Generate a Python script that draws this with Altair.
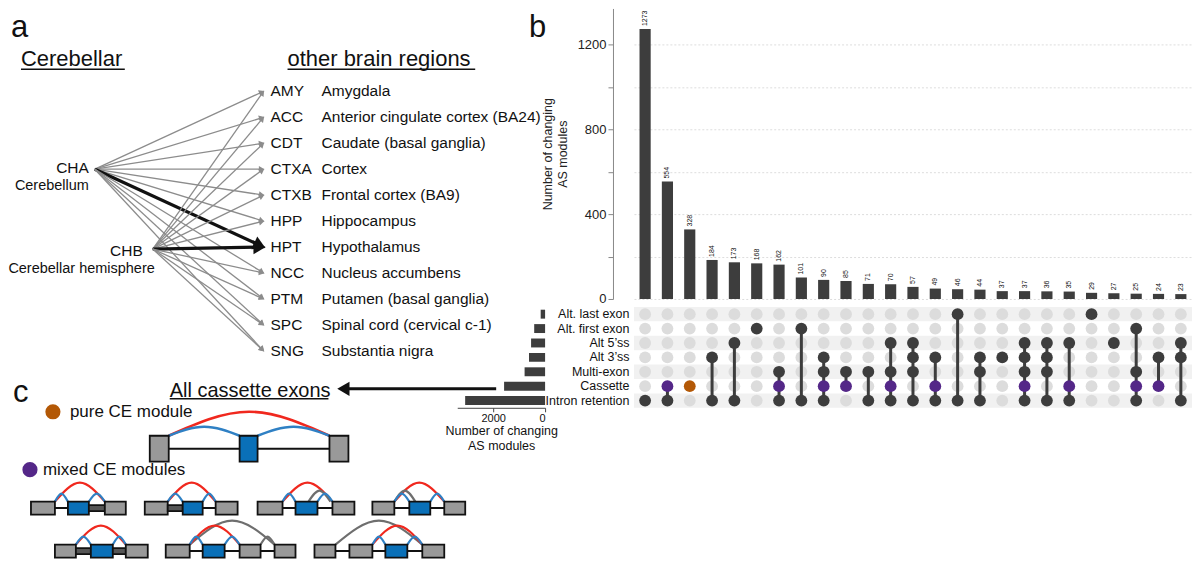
import math
import altair as alt
import pandas as pd

FONT = "Liberation Sans"
INK = "#111111"
DARK = "#3d3d3d"
LIGHT_DOT = "#dcdcdc"
STRIPE = "#f1f1f1"
PURPLE = "#542788"
ORANGE = "#b35806"
EXON_GREY = "#999999"
EXON_DARK = "#555555"
EXON_BLUE = "#0a70b8"
ARC_RED = "#f0281e"
ARC_BLUE = "#2f80c4"
ARC_GREY = "#6e6e6e"
LINK_GREY = "#8c8c8c"

# ---------------- panel b data ----------------
SETS = ["Alt. last exon", "Alt. first exon", "Alt 5\u2019ss", "Alt 3\u2019ss",
        "Multi-exon", "Cassette", "Intron retention"]
SET_SIZES = [170, 420, 540, 620, 790, 1580, 3080]
COUNTS = [1273, 554, 328, 184, 173, 168, 162, 101, 90, 85, 71, 70, 57, 49, 46,
          44, 37, 37, 36, 35, 29, 27, 25, 24, 23]
AL, AF, A5, A3, ME, CAS, IR = SETS
MEMBERS = [
    [IR], [CAS, IR], [CAS], [A3, IR], [A5, IR], [AF], [ME, CAS, IR], [AF, IR],
    [A3, ME, CAS, IR], [ME, CAS], [ME, IR], [A5, ME, CAS, IR], [A5, A3, ME, IR],
    [A3, CAS, IR], [AL, IR], [A3, ME, IR], [A3], [A5, A3, ME, CAS, IR],
    [A5, A3, ME, IR], [A5, CAS, IR], [AL], [A5], [AF, ME, CAS, IR], [A3, CAS],
    [A5, A3, IR],
]
COL_IDS = [f"c{i:02d}" for i in range(len(COUNTS))]

# ---------------- panel a data ----------------
TARGET_CODES = ["AMY", "ACC", "CDT", "CTXA", "CTXB", "HPP", "HPT", "NCC", "PTM", "SPC", "SNG"]
TARGET_NAMES = ["Amygdala", "Anterior cingulate cortex (BA24)", "Caudate (basal ganglia)",
                "Cortex", "Frontal cortex (BA9)", "Hippocampus", "Hypothalamus",
                "Nucleus accumbens", "Putamen (basal ganglia)", "Spinal cord (cervical c-1)",
                "Substantia nigra"]
SOURCE_CODES = ["CHA", "CHB"]
SOURCE_NAMES = ["Cerebellum", "Cerebellar hemisphere"]
HIGHLIGHT = "HPT"

# ---------------- layout ----------------
LEFT_W, MID_W, RIGHT_W = 358, 88, 559
GAP = 89
H_LEFT, H_RIGHT = 553, 400
ROW_RANGE = [299, 400]
BAR_RANGE = [291, 0]
BAR_MAX = 1370

XS = alt.Scale(domain=[0, LEFT_W], nice=False, zero=False)
YS = alt.Scale(domain=[0, H_LEFT], reverse=True, nice=False, zero=False)


def X(f="x"):
    return alt.X(f"{f}:Q", scale=XS, axis=None)


def Y(f="y"):
    return alt.Y(f"{f}:Q", scale=YS, axis=None)


def texts(rows, size, align="left", baseline="middle", color=INK):
    df = pd.DataFrame(rows, columns=["x", "y", "t"])
    return alt.Chart(df).mark_text(font=FONT, fontSize=size, align=align,
                                   baseline=baseline, color=color).encode(
        x=X(), y=Y(), text="t:N")


def rules(rows, width, color=INK):
    df = pd.DataFrame(rows, columns=["x", "y", "x2", "y2"])
    return alt.Chart(df).mark_rule(strokeWidth=width, color=color).encode(
        x=X(), y=Y(), x2=alt.X2("x2:Q"), y2=alt.Y2("y2:Q"))


# ---- panel a geometry
ROW0, ROW_STEP = 83, 26
TIP_X, CODE_X, NAME_X = 253, 260, 311
SRC_POS = {"CHA": (84, 161), "CHB": (142, 241)}

link_rows, head_rows = [], []
for s in SOURCE_CODES:
    sx, sy = SRC_POS[s]
    for i, t in enumerate(TARGET_CODES):
        tx, ty = TIP_X, ROW0 + i * ROW_STEP
        bold = t == HIGHLIGHT
        size = 200 if bold else 42
        dx, dy = tx - sx, ty - sy
        ln = math.hypot(dx, dy)
        ux, uy = dx / ln, dy / ln
        back = 0.433 * math.sqrt(size)
        cx, cy = tx - ux * back, ty - uy * back
        ang = math.degrees(math.atan2(dx, -dy)) % 360
        col = INK if bold else LINK_GREY
        link_rows.append({"x": sx, "y": sy, "x2": cx, "y2": cy, "c": col, "w": 3.2 if bold else 1.3})
        head_rows.append({"x": cx, "y": cy, "a": ang, "s": size, "c": col})

links = alt.Chart(pd.DataFrame(link_rows)).mark_rule().encode(
    x=X(), y=Y(), x2=alt.X2("x2:Q"), y2=alt.Y2("y2:Q"),
    color=alt.Color("c:N", scale=None), strokeWidth=alt.StrokeWidth("w:Q", scale=None))
heads = alt.Chart(pd.DataFrame(head_rows)).mark_point(shape="triangle", filled=True, opacity=1, strokeWidth=0).encode(
    x=X(), y=Y(), angle=alt.Angle("a:Q", scale=None), size=alt.Size("s:Q", scale=None),
    color=alt.Color("c:N", scale=None))

target_codes = texts([(CODE_X, ROW0 + i * ROW_STEP, c) for i, c in enumerate(TARGET_CODES)], 15.5)
target_names = texts([(NAME_X, ROW0 + i * ROW_STEP, n) for i, n in enumerate(TARGET_NAMES)], 15.5)
src_codes = texts([(78, 160, SOURCE_CODES[0]), (132, 243, SOURCE_CODES[1])], 15.5, align="right")
src_names = texts([(78, 178, SOURCE_NAMES[0]), (144, 261, SOURCE_NAMES[1])], 14.5, align="right")

panel_letters = texts([(0, 29, "a"), (519, 29, "b"), (2, 394, "c")], 31, baseline="alphabetic")
headers = alt.layer(
    texts([(10, 58, "Cerebellar"), (277, 58, "other brain regions")], 22, baseline="alphabetic"),
    texts([(159, 389, "All cassette exons")], 20, baseline="alphabetic"),
    rules([(10, 61, 114, 61), (277, 61, 465, 61), (159, 391, 318, 391)], 1.5),
)

# ---- panel c geometry
big_arrow = alt.layer(
    rules([(486, 381, 336, 381)], 3),
    alt.Chart(pd.DataFrame([{"x": 335, "y": 381}])).mark_point(
        shape="triangle", filled=True, opacity=1, size=200, angle=270, color=INK, strokeWidth=0
    ).encode(x=X(), y=Y()),
)
legend_dots = alt.Chart(pd.DataFrame([
    {"x": 42, "y": 404, "c": ORANGE}, {"x": 19, "y": 462, "c": PURPLE}])).mark_circle(
    size=230, opacity=1).encode(x=X(), y=Y(), color=alt.Color("c:N", scale=None))
legend_text = texts([(59, 404, "pure CE module"), (32, 462, "mixed CE modules")], 17)

ROW_GEOM = {
    "pure": dict(top=428, bot=454, dtop=436, dbot=446, red=404, blue=419, grey=412, small=419),
    "r1": dict(top=494, bot=507, dtop=497.5, dbot=503.5, red=475, blue=486, grey=483, small=486),
    "r2": dict(top=537, bot=550, dtop=540.5, dbot=546.5, red=518, blue=529, grey=513, small=529),
}
DIAGRAMS = [
    ("pure", [(139, 158, "G"), (229, 247, "B"), (319, 338, "G")],
     [(158, 319, "red"), (158, 229, "blue"), (247, 319, "blue")]),
    ("r1", [(20, 44, "G"), (57, 78, "B"), (78, 94, "D"), (94, 115, "G")],
     [(44, 94, "red"), (44, 57, "blue"), (78, 94, "blue")]),
    ("r1", [(134, 157, "G"), (157, 172, "D"), (172, 192, "B"), (205, 227, "G")],
     [(157, 205, "red"), (157, 172, "blue"), (192, 205, "blue")]),
    ("r1", [(247, 272, "G"), (285, 307, "B"), (322, 344, "G")],
     [(272, 322, "red"), (298, 320, "grey"), (272, 285, "blue"), (307, 322, "blue")]),
    ("r1", [(362, 384, "G"), (399, 420, "B"), (434, 455, "G")],
     [(384, 434, "red"), (384, 405, "grey"), (384, 399, "blue"), (420, 434, "blue")]),
    ("r2", [(44, 65, "G"), (65, 80, "D"), (80, 102, "B"), (102, 115, "D"), (115, 137, "G")],
     [(65, 115, "red"), (65, 80, "blue"), (102, 115, "blue")]),
    ("r2", [(155, 179, "G"), (192, 214, "B"), (229, 250, "G"), (264, 285, "G")],
     [(179, 264, "grey"), (250, 264, "small"), (179, 229, "red"), (179, 192, "blue"), (214, 229, "blue")]),
    ("r2", [(304, 325, "G"), (339, 362, "G"), (375, 397, "B"), (412, 434, "G")],
     [(325, 412, "grey"), (362, 412, "red"), (362, 375, "blue"), (397, 412, "blue")]),
]
ARC_COLORS = {"red": ARC_RED, "blue": ARC_BLUE, "grey": ARC_GREY, "small": ARC_GREY}
FILL = {"G": EXON_GREY, "B": EXON_BLUE, "D": EXON_DARK}

box_rows, intron_rows, arc_rows = [], [], []
aid = 0
for row, exons, arcs in DIAGRAMS:
    g = ROW_GEOM[row]
    mid = (g["top"] + g["bot"]) / 2
    intron_rows.append((exons[0][0], mid, exons[-1][1], mid))
    for x1, x2, k in exons:
        if k == "D":
            box_rows.append({"x": x1, "x2": x2, "y": g["dtop"], "y2": g["dbot"], "f": FILL[k]})
        else:
            box_rows.append({"x": x1, "x2": x2, "y": g["top"], "y2": g["bot"], "f": FILL[k]})
    for x1, x2, kind in arcs:
        aid += 1
        for k, (px, py) in enumerate([(x1, g["top"]), ((x1 + x2) / 2, g[kind]), (x2, g["top"])]):
            arc_rows.append({"id": aid, "k": k, "x": px, "y": py, "c": ARC_COLORS[kind],
                             "w": 2.6 if row == "pure" else 2.2})

introns = rules(intron_rows, 2)
arcs_layer = alt.Chart(pd.DataFrame(arc_rows)).mark_line(interpolate="natural").encode(
    x=X(), y=Y(), detail="id:N", order="k:O",
    color=alt.Color("c:N", scale=None), strokeWidth=alt.StrokeWidth("w:Q", scale=None))
boxes = alt.Chart(pd.DataFrame(box_rows)).mark_rect(stroke=INK, strokeWidth=1.8).encode(
    x=X(), x2=alt.X2("x2:Q"), y=Y(), y2=alt.Y2("y2:Q"), fill=alt.Fill("f:N", scale=None))

left = alt.layer(
    panel_letters, headers, links, heads, target_codes, target_names, src_codes, src_names,
    big_arrow, legend_dots, legend_text, introns, arcs_layer, boxes,
).properties(width=LEFT_W, height=H_LEFT)

# ---------------- set size bars (middle) ----------------
set_df = pd.DataFrame({"set": SETS, "size": SET_SIZES})
mid = alt.Chart(set_df).mark_bar(color=DARK).encode(
    y=alt.Y("set:N", sort=SETS,
            scale=alt.Scale(type="band", domain=SETS, range=ROW_RANGE, paddingInner=0.38, paddingOuter=0.19),
            axis=None),
    x=alt.X("size:Q", scale=alt.Scale(domain=[0, 3385], reverse=True, nice=False),
            axis=alt.Axis(values=[0, 2000], format="d", title=["Number of changing", "AS modules"],
                          titleFont=FONT, titleFontSize=12.5, titleFontWeight="normal", titleColor=INK,
                          titlePadding=1, labelFont=FONT, labelFontSize=11, labelColor=INK,
                          labelPadding=1, tickSize=4, tickColor="#444", domainColor="#444", grid=False)),
).properties(width=MID_W, height=H_RIGHT)

# ---------------- intersection bars + matrix (right) ----------------
XB = alt.Scale(type="band", domain=COL_IDS, paddingInner=0.5, paddingOuter=0.25)
xcol = alt.X("col:N", sort=COL_IDS, scale=XB, axis=None)
bar_df = pd.DataFrame({"col": COL_IDS, "count": COUNTS})
YB = alt.Scale(domain=[0, BAR_MAX], range=BAR_RANGE, nice=False, zero=True)

top_bars = alt.Chart(bar_df).mark_bar(color=DARK).encode(
    x=xcol,
    y=alt.Y("count:Q", scale=YB,
            axis=alt.Axis(values=list(range(0, 1201, 200)), format="d",
                          labelExpr="datum.value % 400 === 0 ? datum.label : ''",
                          title=["Number of changing", "AS modules"], titleFont=FONT,
                          titleFontSize=12.5, titleFontWeight="normal", titleColor="#222",
                          titlePadding=8, labelFont=FONT, labelFontSize=13, labelColor="#222",
                          labelPadding=2, offset=21, tickSize=5, tickColor="#888",
                          domainColor="#888", grid=True, gridDash=[2, 2], gridColor="#dddddd")),
)
bar_labels = alt.Chart(bar_df).mark_text(angle=270, align="left", baseline="middle", dx=3,
                                         font=FONT, fontSize=7, color=INK).encode(
    x=xcol, y=alt.Y("count:Q", scale=YB, axis=None), text="count:Q")

ROWS = alt.Scale(type="band", domain=SETS, range=ROW_RANGE, paddingInner=0, paddingOuter=0)
stripe_df = pd.DataFrame({"set": [s for i, s in enumerate(SETS) if i % 2 == 0]})
stripes = alt.Chart(stripe_df).mark_rect(color=STRIPE).encode(
    y=alt.Y("set:N", scale=ROWS, axis=None), x=alt.value(0), x2=alt.value(RIGHT_W))

dot_rows = []
for cid, mem in zip(COL_IDS, MEMBERS):
    for s in SETS:
        on = s in mem
        if not on:
            c = LIGHT_DOT
        elif s == CAS:
            c = ORANGE if len(mem) == 1 else PURPLE
        else:
            c = DARK
        dot_rows.append({"col": cid, "set": s, "c": c, "on": on})
dot_df = pd.DataFrame(dot_rows)

grey_dots = alt.Chart(dot_df[~dot_df["on"]]).mark_circle(size=140, opacity=1).encode(
    x=xcol, y=alt.Y("set:N", scale=ROWS, axis=None), color=alt.Color("c:N", scale=None))
on_dots = alt.Chart(dot_df[dot_df["on"]]).mark_circle(size=140, opacity=1).encode(
    x=xcol,
    y=alt.Y("set:N", scale=ROWS,
            axis=alt.Axis(orient="left", domain=False, ticks=False, labelFont=FONT,
                          labelFontSize=12.5, labelColor=INK, labelPadding=5, title=None,
                          grid=False)),
    color=alt.Color("c:N", scale=None))

conn_rows = []
for cid, mem in zip(COL_IDS, MEMBERS):
    if len(mem) > 1:
        idx = sorted(SETS.index(s) for s in mem)
        conn_rows.append({"col": cid, "top": SETS[idx[0]], "bottom": SETS[idx[-1]]})
connectors = alt.Chart(pd.DataFrame(conn_rows)).mark_rule(strokeWidth=3, color=DARK).encode(
    x=xcol, y=alt.Y("top:N", scale=ROWS, axis=None), y2=alt.Y2("bottom:N"))

right = alt.layer(top_bars, bar_labels, stripes, grey_dots, connectors, on_dots).resolve_scale(
    y="independent").properties(width=RIGHT_W, height=H_RIGHT)

chart = alt.hconcat(left, mid, right, spacing=GAP, bounds="flush").properties(
    padding={"left": 0, "top": 0, "right": 0, "bottom": 0}
).configure(font=FONT).configure_view(stroke=None)

chart.save("out.html", embed_options={"renderer": "svg", "actions": False})
